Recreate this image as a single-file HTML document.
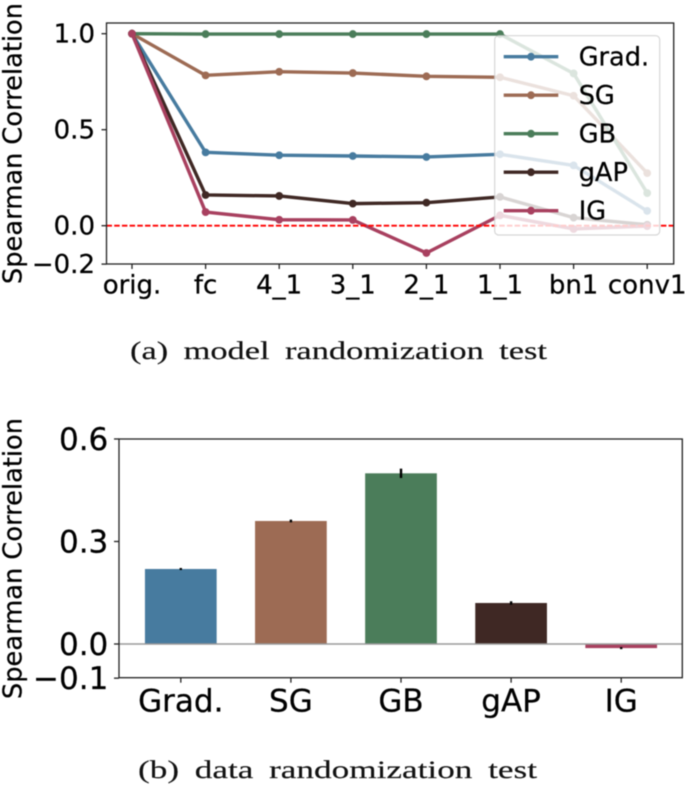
<!DOCTYPE html>
<html>
<head>
<meta charset="utf-8">
<title>Randomization tests</title>
<style>
html,body{margin:0;padding:0;background:#fff;width:685px;height:786px;overflow:hidden}
svg{display:block;filter:blur(0.4px)}
text{font-family:"DejaVu Sans","Liberation Sans",sans-serif;fill:#000;stroke:#000;stroke-width:0.25px}
.cap{font-family:"Liberation Serif",serif;fill:#111;stroke:#111;stroke-width:0.15px;word-spacing:5px}
</style>
</head>
<body>
<svg id="fig" xmlns="http://www.w3.org/2000/svg" width="685" height="786" viewBox="0 0 685 786"></svg>
<script>
// ---------- chart (a) data ----------
const layers = ["orig.", "fc", "4_1", "3_1", "2_1", "1_1", "bn1", "conv1"];
const lineYTicks = [1.0, 0.5, 0.0, -0.2];
const lineYTickLabels = ["1.0", "0.5", "0.0", "\u22120.2"];
const gradValues = [1, 0.382, 0.367, 0.363, 0.358, 0.372, 0.314, 0.077];
const sgValues = [1, 0.783, 0.802, 0.795, 0.778, 0.773, 0.677, 0.274];
const gbValues = [1, 0.998, 0.998, 0.998, 0.998, 0.998, 0.793, 0.170];
const gapValues = [1, 0.160, 0.155, 0.115, 0.120, 0.150, 0.042, 0.005];
const igValues = [1, 0.071, 0.031, 0.030, -0.142, 0.054, -0.017, -0.002];
const methodNames = ["Grad.", "SG", "GB", "gAP", "IG"];
const methodColors = ["#477b9f", "#9d6b54", "#4b7d5a", "#3f2824", "#a8405f"];
// ---------- chart (b) data ----------
const barYTicks = [0.6, 0.3, 0.0, -0.1];
const barYTickLabels = ["0.6", "0.3", "0.0", "\u22120.1"];
const barValues = [0.2195, 0.36, 0.4995, 0.12, -0.012];
const barErrors = [0.003, 0.004, 0.0137, 0.005, 0.003];

const NS = "http://www.w3.org/2000/svg";
const fig = document.getElementById("fig");
function mk(tag, attrs, parent, txt) {
  const el = document.createElementNS(NS, tag);
  for (const k in attrs) el.setAttribute(k, attrs[k]);
  if (txt !== undefined) el.textContent = txt;
  (parent || fig).appendChild(el);
  return el;
}
function slug(s) { return s.toLowerCase().replace(/[^a-z0-9]+/g, "-").replace(/^-|-$/g, ""); }

// ---------- axis functions ----------
const A = { l: 106.5, r: 673.7, t: 23, b: 264 };
const ax = i => 132 + i * 73.6;
const ay = v => 225.7 - v * 192;
const B = { l: 119, r: 682.3, t: 439, b: 677.7 };
const bx = i => 180.8 + i * 110.1;
const by = v => 644 - v * 341.7;
const barWidth = 71.7;

// ---------- chart (a) ----------
const chartA = mk("g", {});



const seriesValues = [gradValues, sgValues, gbValues, gapValues, igValues];
seriesValues.forEach((vals, s) => {
  const g = mk("g", {}, chartA);
  
  
  const line = mk("polyline", {
    points: vals.map((v, i) => ax(i) + "," + ay(v)).join(" "),
    fill: "none", stroke: methodColors[s], "stroke-width": 3.4, "stroke-linejoin": "round"
  }, g);
  
  
  vals.forEach((v, i) => {
    const p = mk("circle", { cx: ax(i), cy: ay(v), r: 3.9, fill: methodColors[s] }, g);
    
    
  });
});

const zeroLine = mk("line", { x1: A.l, x2: A.r, y1: ay(0), y2: ay(0), stroke: "#ff0000", "stroke-width": 1.8, "stroke-dasharray": "5.5 2.2" }, chartA);



const frameA = mk("rect", { x: A.l, y: A.t, width: A.r - A.l, height: A.b - A.t, fill: "none", stroke: "#222", "stroke-width": 1.3 }, chartA);



lineYTicks.forEach((v, i) => {
  const t = mk("line", { x1: A.l - 5, x2: A.l, y1: ay(v), y2: ay(v), stroke: "#222", "stroke-width": 1.3 }, chartA);
  
  
  const l = mk("text", { x: 95, y: ay(v) + 9, "text-anchor": "end", "font-size": 26 }, chartA, lineYTickLabels[i]);
  
  
});
layers.forEach((name, i) => {
  const t = mk("line", { x1: ax(i), x2: ax(i), y1: A.b, y2: A.b + 5, stroke: "#222", "stroke-width": 1.3 }, chartA);
  
  
  const l = mk("text", { x: ax(i), y: 293.5, "text-anchor": "middle", "font-size": 26 }, chartA, name);
  
  
});
const yTitleA = mk("text", { transform: "translate(21.5 143.5) rotate(-90)", "text-anchor": "middle", "font-size": 25.7 }, chartA, "Spearman Correlation");



// legend
const legend = mk("g", {}, chartA);


const legendBox = mk("rect", { x: 494.7, y: 35.7, width: 165, height: 199.3, rx: 4, fill: "#fff", "fill-opacity": 0.8, stroke: "#ccc", "stroke-opacity": 0.8, "stroke-width": 1.2 }, legend);


methodNames.forEach((name, i) => {
  const ly = 56.7 + i * 38.5;
  const entry = mk("g", {}, legend);
  
  
  mk("line", { x1: 503.7, x2: 558.3, y1: ly, y2: ly, stroke: methodColors[i], "stroke-width": 3.4 }, entry);
  mk("circle", { cx: 531, cy: ly, r: 3.9, fill: methodColors[i] }, entry);
  mk("text", { x: 578.7, y: ly + 9, "font-size": 25.6 }, entry, name);
});

const capA = mk("text", { class: "cap", x: 130, y: 359, "font-size": 25.5, textLength: 417, lengthAdjust: "spacingAndGlyphs" }, fig, "(a) model randomization test");



// ---------- chart (b) ----------
const chartB = mk("g", {});



barValues.forEach((v, i) => {
  const top = Math.min(by(v), by(0));
  const bar = mk("rect", { x: bx(i) - barWidth / 2, y: top, width: barWidth, height: Math.abs(by(v) - by(0)), fill: methodColors[i] }, chartB);
  
  
  const err = mk("line", { x1: bx(i), x2: bx(i), y1: by(v + barErrors[i]), y2: by(v - barErrors[i]), stroke: "#000", "stroke-width": 2.4 }, chartB);
  
  
});
const baseline = mk("line", { x1: B.l, x2: B.r, y1: by(0), y2: by(0), stroke: "#999", "stroke-width": 1.5 }, chartB);



const frameB = mk("rect", { x: B.l, y: B.t, width: B.r - B.l, height: B.b - B.t, fill: "none", stroke: "#222", "stroke-width": 1.3 }, chartB);



barYTicks.forEach((v, i) => {
  const t = mk("line", { x1: B.l - 5, x2: B.l, y1: by(v), y2: by(v), stroke: "#222", "stroke-width": 1.3 }, chartB);
  
  
  const l = mk("text", { x: 108.3, y: by(v) + 11, "text-anchor": "end", "font-size": 31 }, chartB, barYTickLabels[i]);
  
  
});
methodNames.forEach((name, i) => {
  const t = mk("line", { x1: bx(i), x2: bx(i), y1: B.b, y2: B.b + 5, stroke: "#222", "stroke-width": 1.3 }, chartB);
  
  
  const l = mk("text", { x: bx(i), y: 711.5, "text-anchor": "middle", "font-size": 31 }, chartB, name);
  
  
});
const yTitleB = mk("text", { transform: "translate(21.5 558.5) rotate(-90)", "text-anchor": "middle", "font-size": 25.7 }, chartB, "Spearman Correlation");



const capB = mk("text", { class: "cap", x: 138, y: 778, "font-size": 25.5, textLength: 399, lengthAdjust: "spacingAndGlyphs" }, fig, "(b) data randomization test");


</script>
</body>
</html>
